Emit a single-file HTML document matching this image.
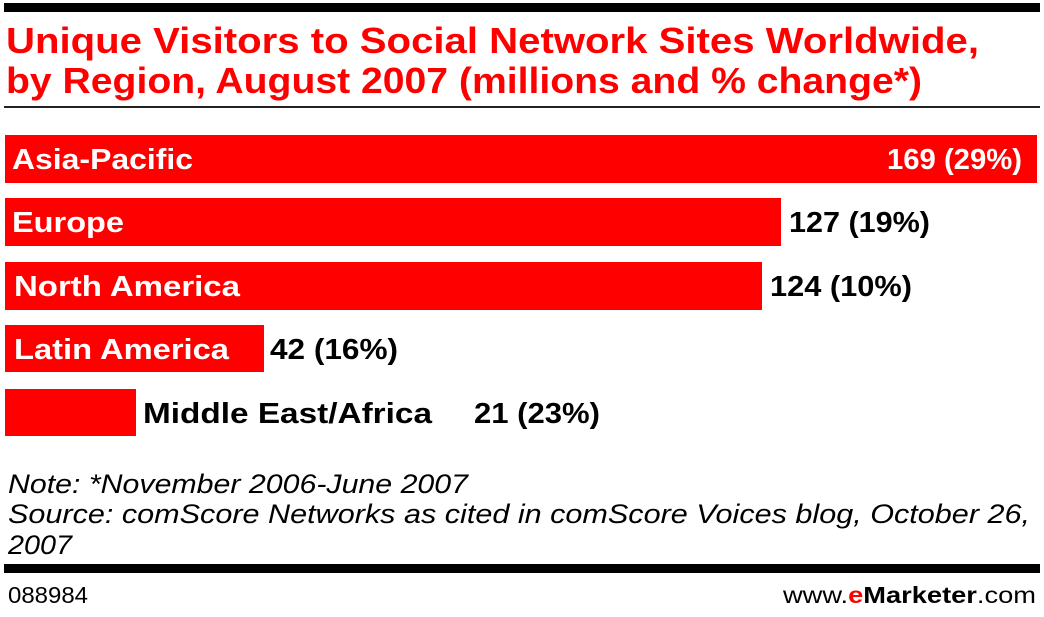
<!DOCTYPE html>
<html><head><meta charset="utf-8"><style>
html,body{margin:0;padding:0;background:#fff;width:1044px;height:617px;overflow:hidden}
svg text{font-family:"Liberation Sans Narrow","Liberation Sans",sans-serif}
.t{fill:#f00;font-weight:bold;font-size:36px}
.l{fill:#fff;font-weight:bold;font-size:29px}
.v{fill:#000;font-weight:bold;font-size:29px}
.n{fill:#000;font-style:italic;font-size:27px}
.f{fill:#000;font-size:23px}
</style></head><body>
<svg width="1044" height="617" xmlns="http://www.w3.org/2000/svg">
<rect x="4" y="3" width="1036" height="9" fill="#000"/>
<text class="t" x="6" y="53" textLength="973" lengthAdjust="spacingAndGlyphs">Unique Visitors to Social Network Sites Worldwide,</text>
<text class="t" x="6" y="93" textLength="916" lengthAdjust="spacingAndGlyphs">by Region, August 2007 (millions and % change*)</text>
<rect x="4" y="106" width="1036" height="2" fill="#222"/>
<rect x="5" y="135" width="1032" height="48" fill="#f00"/>
<rect x="5" y="198" width="776" height="48" fill="#f00"/>
<rect x="5" y="262" width="757" height="48" fill="#f00"/>
<rect x="5" y="325" width="259" height="47" fill="#f00"/>
<rect x="5" y="389" width="131" height="47" fill="#f00"/>
<text class="l" x="12" y="169" textLength="181" lengthAdjust="spacingAndGlyphs">Asia-Pacific</text>
<text class="l" x="887" y="169" textLength="135" lengthAdjust="spacingAndGlyphs">169 (29%)</text>
<text class="l" x="12" y="232" textLength="112" lengthAdjust="spacingAndGlyphs">Europe</text>
<text class="v" x="789" y="232" textLength="141" lengthAdjust="spacingAndGlyphs">127 (19%)</text>
<text class="l" x="14" y="296" textLength="226" lengthAdjust="spacingAndGlyphs">North America</text>
<text class="v" x="770" y="296" textLength="142" lengthAdjust="spacingAndGlyphs">124 (10%)</text>
<text class="l" x="14" y="359" textLength="215" lengthAdjust="spacingAndGlyphs">Latin America</text>
<text class="v" x="270" y="359" textLength="128" lengthAdjust="spacingAndGlyphs">42 (16%)</text>
<text class="v" x="143" y="423" textLength="289" lengthAdjust="spacingAndGlyphs">Middle East/Africa</text>
<text class="v" x="474" y="423" textLength="126" lengthAdjust="spacingAndGlyphs">21 (23%)</text>
<text class="n" x="8" y="493" textLength="460" lengthAdjust="spacingAndGlyphs">Note: *November 2006-June 2007</text>
<text class="n" x="8" y="523" textLength="1022" lengthAdjust="spacingAndGlyphs">Source: comScore Networks as cited in comScore Voices blog, October 26,</text>
<text class="n" x="8" y="554" textLength="64" lengthAdjust="spacingAndGlyphs">2007</text>
<rect x="4" y="564" width="1036" height="9" fill="#000"/>
<text class="f" x="8" y="603" textLength="80" lengthAdjust="spacingAndGlyphs">088984</text>
<text class="f" x="783" y="603" textLength="253" lengthAdjust="spacingAndGlyphs">www.<tspan fill="#f00" font-weight="bold">e</tspan><tspan font-weight="bold">Marketer</tspan>.com</text>
</svg>
</body></html>
